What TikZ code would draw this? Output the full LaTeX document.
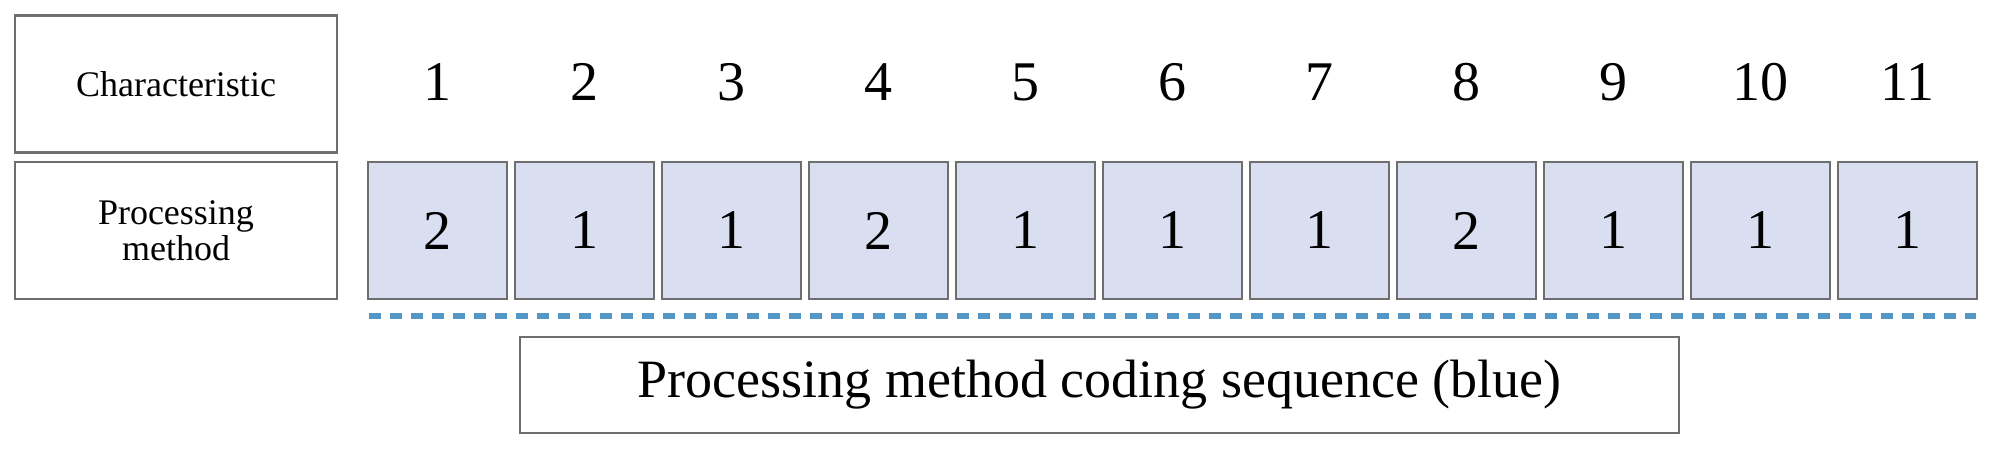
\documentclass[tikz,border=0pt]{standalone}
\usepackage{fontspec}
\setmainfont{Liberation Serif}
\definecolor{boxline}{RGB}{110,110,110}
\definecolor{cellfill}{RGB}{217,223,241}
\definecolor{dashblue}{RGB}{85,150,200}
\begin{document}
\begin{tikzpicture}[x=1pt,y=-1pt,
  lbl/.style={draw=boxline,line width=2.5pt,fill=white,minimum width=322pt,minimum height=137pt,inner sep=0pt,align=center,font=\fontsize{36}{40}\selectfont},
  cell/.style={draw=boxline,line width=2.5pt,fill=cellfill,minimum width=139pt,minimum height=137pt,inner sep=0pt,font=\fontsize{56}{60}\selectfont},
  num/.style={font=\fontsize{56}{60}\selectfont,inner sep=0pt}]
\useasboundingbox (0,0) rectangle (1993,452);
\node[lbl] (char) at (176,84) {Characteristic};
\node[lbl] (pm) at (176,230.5) {Processing\\[-4pt]method};
\foreach \v [count=\i] in {2,1,1,2,1,1,1,2,1,1,1}{
  \node[cell] (c\i) at ({437.5+147*(\i-1)},230.5) {\v};
  \node[num] (n\i) at ({437.5+147*(\i-1)},82) {\i};
}
\coordinate (dl) at (369,316);
\coordinate (dr) at (1976,316);
\draw[dashblue,line width=6pt,dash pattern=on 12pt off 9pt] (dl) -- (dr);
\node[draw=boxline,line width=2.5pt,minimum width=1159pt,minimum height=96pt,inner sep=0pt,font=\fontsize{54}{58}\selectfont] (seq) at (1099.5,385) {Processing method coding sequence (blue)};
\end{tikzpicture}
\end{document}
